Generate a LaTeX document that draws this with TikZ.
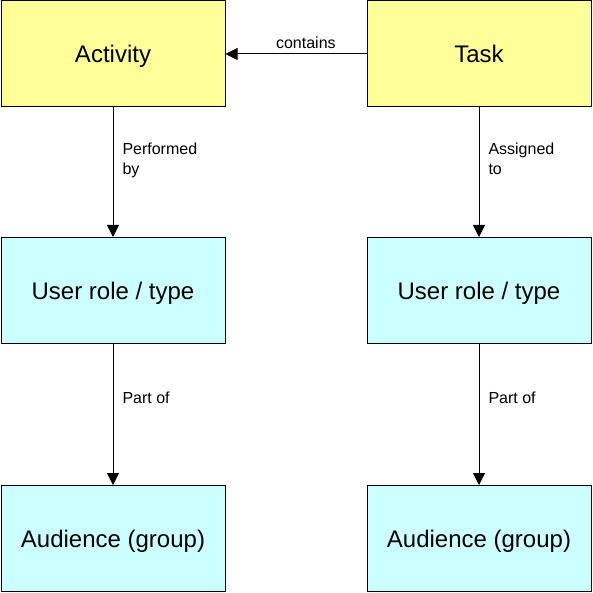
\documentclass[tikz,border=0pt]{standalone}
\usepackage{fontspec}
\setmainfont{Liberation Sans}
\usetikzlibrary{arrows.meta}
\definecolor{boxyellow}{HTML}{FFFF99}
\definecolor{boxcyan}{HTML}{CCFFFF}
\begin{document}
\begin{tikzpicture}[x=1pt,y=-1pt,
    entity/.style={draw,line width=1pt,minimum width=224pt,minimum height=106pt,
        inner sep=0pt,text height=17.2pt,text depth=0pt,font=\fontsize{24}{28}\selectfont},
    thing/.style={entity,fill=boxyellow},
    person/.style={entity,fill=boxcyan},
    link/.style={-{Triangle[length=12pt,width=12pt]},line width=1pt},
    linklabel/.style={font=\fontsize{16}{20}\selectfont,inner sep=0pt,align=left}]
    		\useasboundingbox (0,0) rectangle (593,593);
    		\node (activity) at (113,54) [thing] {Activity};
    		\node (task) at (479,54) [thing] {Task};
    		\node (role1) at (113,290.5) [person] {User role / type};
    		\node (role2) at (479,290.5) [person] {User role / type};
    		\node (group1) at (113,538.5) [person] {Audience (group)};
    		\node (group2) at (479,538.5) [person] {Audience (group)};
    		\draw [link] (task) -- node[linklabel,pos=0.43,anchor=south,yshift=5pt] {contains} (activity);
    		\draw [link] (activity) -- node[linklabel,pos=0.27,anchor=north west,xshift=9pt] {Performed\\by} (role1);
    		\draw [link] (task) -- node[linklabel,pos=0.27,anchor=north west,xshift=9pt] {Assigned\\to} (role2);
    		\draw [link] (role1) -- node[linklabel,pos=0.335,anchor=north west,xshift=9pt] {Part of} (group1);
    		\draw [link] (role2) -- node[linklabel,pos=0.335,anchor=north west,xshift=9pt] {Part of} (group2);
    		\end{tikzpicture}
\end{document}
